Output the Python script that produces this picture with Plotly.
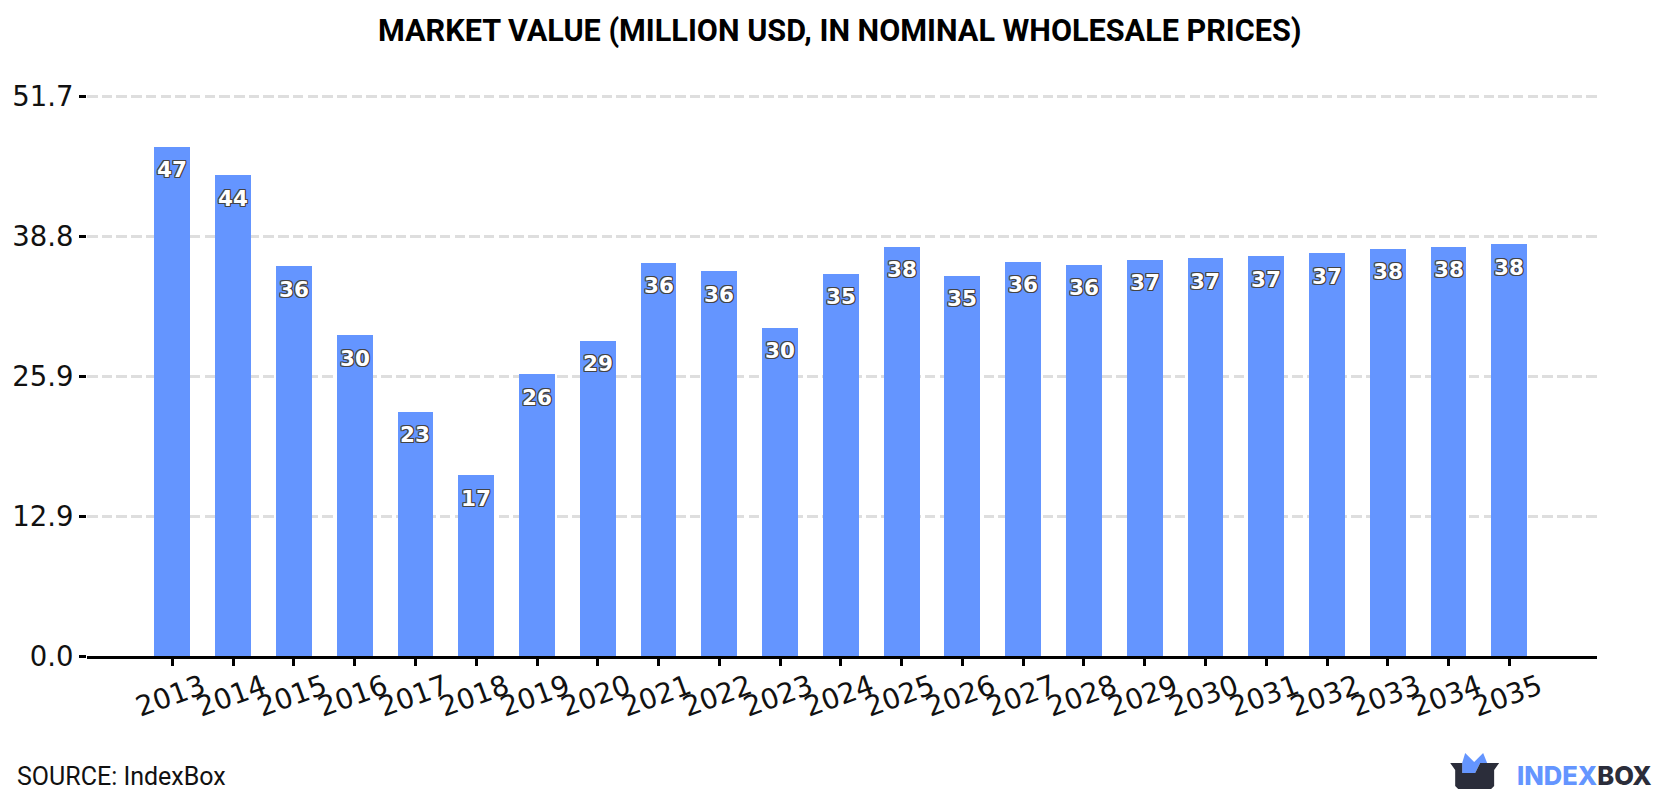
import plotly.graph_objects as go

TITLE = "MARKET VALUE (MILLION USD, IN NOMINAL WHOLESALE PRICES)"
SOURCE = "SOURCE: IndexBox"
years = list(range(2013, 2036))
market_value = [47.0, 44.4, 36.0, 29.6, 22.55, 16.7, 26.0, 29.1, 36.3, 35.5, 30.3, 35.3,
                37.8, 35.1, 36.4, 36.1, 36.6, 36.7, 36.9, 37.2, 37.6, 37.8, 38.0]
y_ticks = [0.0, 12.925, 25.85, 38.775, 51.7]
y_labels = ["0.0", "12.9", "25.9", "38.8", "51.7"]

BLUE = "#6495FF"
DARK = "#2B2D3A"
W, H = 1680, 800
L, R, T, B = 85, 83, 94, 144
Y_TOP = 51.7 + 2 * 51.7 / 560.5  # small headroom so the top gridline is drawn
SPACING = 60.85


def px(x):
    return (x - L) / (W - L - R)


def py(y):
    return 1 - (y - T) / (H - T - B)


def path(points):
    return "M " + " L ".join(f"{px(x):.5f},{py(y):.5f}" for x, y in points) + " Z"


def paper_text(x, y, text, font, xanchor="center"):
    return dict(xref="paper", yref="paper", x=px(x), y=py(y), text=text, showarrow=False,
                xanchor=xanchor, yanchor="middle", font=font)


OUTLINE = ",".join(f"{a}px {b}px 0 #444" for a in (-1, 0, 1) for b in (-1, 0, 1) if a or b)

fig = go.Figure(go.Bar(x=years, y=market_value, width=0.59, marker_color=BLUE,
                       marker_line_width=0, hoverinfo="x+y"))

# Rounded value labels sit just inside the top of each bar
annotations = [
    dict(x=yr, y=v, text=str(round(v)), showarrow=False, yshift=-23,
         font=dict(family="DejaVu Sans", size=21.5, color="white", weight="bold", shadow=OUTLINE))
    for yr, v in zip(years, market_value)
]
annotations += [
    paper_text(839, 31, f"<b>{TITLE}</b>", dict(family="Roboto", size=30.6, color="#000")),
    paper_text(13, 776, SOURCE, dict(family="Roboto", size=25, color="#111"), xanchor="left"),
    paper_text(1515, 775,
               f"<span style='color:{BLUE}'>INDEX</span><span style='color:{DARK}'>BOX</span>",
               dict(family="Inter", size=25.5, weight=800), xanchor="left"),
]

# Logo: open box with a blue crown rising out of it
logo_parts = [
    (BLUE, [(1462, 773), (1462, 763), (1465, 753), (1474, 762), (1483, 753), (1487, 763),
            (1480, 763), (1475, 773)]),
    (DARK, [(1450, 763), (1462, 763), (1462, 773), (1475, 773), (1480, 763), (1499, 763),
            (1494, 770), (1494, 786), (1491, 789), (1458, 789), (1455, 786), (1455, 770)]),
]
shapes = [dict(type="path", xref="paper", yref="paper", line_width=0, fillcolor=c, layer="above",
               path=path(p)) for c, p in logo_parts]

fig.update_layout(
    width=W, height=H, autosize=False, showlegend=False, bargap=0,
    margin=dict(l=L, r=R, t=T, b=B),
    paper_bgcolor="white", plot_bgcolor="white",
    annotations=annotations, shapes=shapes,
    xaxis=dict(range=[2013 - 85.5 / SPACING, 2013 + 1426.5 / SPACING], tickmode="array", tickvals=years,
               ticktext=[str(y) for y in years], tickangle=-20, ticklabelshift=30,
               ticklabelstandoff=-6,
               tickfont=dict(family="DejaVu Sans", size=28, color="#111"),
               ticks="outside", ticklen=7, tickwidth=2.5, tickcolor="#000",
               showline=True, linecolor="#000", linewidth=3, showgrid=False, zeroline=False),
    yaxis=dict(range=[0, Y_TOP], tickmode="array", tickvals=y_ticks, ticktext=y_labels,
               tickfont=dict(family="DejaVu Sans", size=27.5, color="#111"),
               ticks="outside", ticklen=7, tickwidth=2.5, tickcolor="#000",
               showline=False, showgrid=True, gridcolor="#DEDEDE", griddash="10.5px,4.2px", gridwidth=2.5,
               zeroline=False),
)

fig.write_html("out.html")
